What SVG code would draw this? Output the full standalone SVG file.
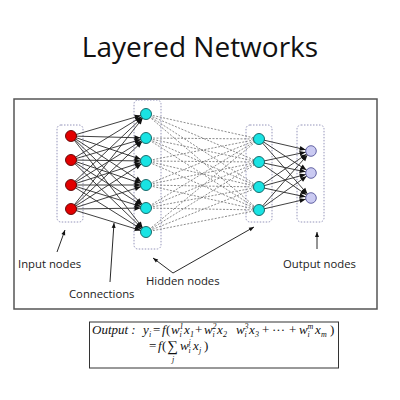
<svg xmlns="http://www.w3.org/2000/svg" width="400" height="400" viewBox="0 0 400 400">
<defs>
<marker id="nh" markerUnits="userSpaceOnUse" markerWidth="12" markerHeight="6" refX="11.5" refY="2.5" orient="auto" overflow="visible"><path d="M0,0 L6,2.5 L0,5 z" fill="#111"/></marker>
<marker id="ah" markerUnits="userSpaceOnUse" markerWidth="6" markerHeight="5" refX="5" refY="2" orient="auto" overflow="visible"><path d="M0,0 L5,2 L0,4 z" fill="#111"/></marker>
<style>
.title{font-family:"Open Sans","Liberation Sans",sans-serif;font-size:28px;fill:#111}
.lbl{font-family:"Open Sans","Liberation Sans",sans-serif;font-size:11.3px;fill:#222}
.f{font-family:"Liberation Serif",serif;font-style:italic;font-size:13px;fill:#111}
.fs{font-family:"Liberation Serif",serif;font-style:italic;font-size:8px;fill:#111}
.fn{font-family:"Liberation Serif",serif;font-size:13px;fill:#111}
.grp{fill:none;stroke:#7a7aa8;stroke-width:0.8;stroke-dasharray:1.5 1.5}
.inp{fill:#e20000;stroke:#5a0000;stroke-width:0.9}
.hid{fill:#19e3e3;stroke:#0e5c5c;stroke-width:0.9}
.out{fill:#cacaf2;stroke:#55559a;stroke-width:0.9}
.s{stroke:#2a2a2a;stroke-width:0.9;marker-end:url(#nh)}
.d{stroke:#666;stroke-width:0.75;stroke-dasharray:2 1.5}
.ann{stroke:#111;stroke-width:0.9;fill:none;marker-end:url(#ah)}
</style>
</defs>
<rect width="400" height="400" fill="#fff"/>
<text class="title" x="200" y="57" text-anchor="middle">Layered Networks</text>
<rect x="14" y="99" width="363" height="210" fill="none" stroke="#555" stroke-width="1.5"/>

<g id="groups">
<rect class="grp" x="57" y="125" width="26" height="97" rx="4"/>
<rect class="grp" x="134" y="100" width="27" height="149" rx="4"/>
<rect class="grp" x="246" y="125" width="26" height="97" rx="4"/>
<rect class="grp" x="297" y="125" width="27" height="97" rx="4"/>
</g>

<g id="connectors">
<g id="in-hid">
<line class="s" x1="71" y1="136" x2="146" y2="114"/><line class="s" x1="71" y1="136" x2="146" y2="138"/><line class="s" x1="71" y1="136" x2="146" y2="161"/><line class="s" x1="71" y1="136" x2="146" y2="185"/><line class="s" x1="71" y1="136" x2="146" y2="208"/><line class="s" x1="71" y1="136" x2="146" y2="232"/>
<line class="s" x1="71" y1="160" x2="146" y2="114"/><line class="s" x1="71" y1="160" x2="146" y2="138"/><line class="s" x1="71" y1="160" x2="146" y2="161"/><line class="s" x1="71" y1="160" x2="146" y2="185"/><line class="s" x1="71" y1="160" x2="146" y2="208"/><line class="s" x1="71" y1="160" x2="146" y2="232"/>
<line class="s" x1="71" y1="185" x2="146" y2="114"/><line class="s" x1="71" y1="185" x2="146" y2="138"/><line class="s" x1="71" y1="185" x2="146" y2="161"/><line class="s" x1="71" y1="185" x2="146" y2="185"/><line class="s" x1="71" y1="185" x2="146" y2="208"/><line class="s" x1="71" y1="185" x2="146" y2="232"/>
<line class="s" x1="71" y1="209" x2="146" y2="114"/><line class="s" x1="71" y1="209" x2="146" y2="138"/><line class="s" x1="71" y1="209" x2="146" y2="161"/><line class="s" x1="71" y1="209" x2="146" y2="185"/><line class="s" x1="71" y1="209" x2="146" y2="208"/><line class="s" x1="71" y1="209" x2="146" y2="232"/>
</g>
<g id="hid-hid">
<line class="d" x1="146" y1="114" x2="259" y2="139"/><line class="d" x1="146" y1="114" x2="259" y2="162"/><line class="d" x1="146" y1="114" x2="259" y2="187"/><line class="d" x1="146" y1="114" x2="259" y2="210"/>
<line class="d" x1="146" y1="138" x2="259" y2="139"/><line class="d" x1="146" y1="138" x2="259" y2="162"/><line class="d" x1="146" y1="138" x2="259" y2="187"/><line class="d" x1="146" y1="138" x2="259" y2="210"/>
<line class="d" x1="146" y1="161" x2="259" y2="139"/><line class="d" x1="146" y1="161" x2="259" y2="162"/><line class="d" x1="146" y1="161" x2="259" y2="187"/><line class="d" x1="146" y1="161" x2="259" y2="210"/>
<line class="d" x1="146" y1="185" x2="259" y2="139"/><line class="d" x1="146" y1="185" x2="259" y2="162"/><line class="d" x1="146" y1="185" x2="259" y2="187"/><line class="d" x1="146" y1="185" x2="259" y2="210"/>
<line class="d" x1="146" y1="208" x2="259" y2="139"/><line class="d" x1="146" y1="208" x2="259" y2="162"/><line class="d" x1="146" y1="208" x2="259" y2="187"/><line class="d" x1="146" y1="208" x2="259" y2="210"/>
<line class="d" x1="146" y1="232" x2="259" y2="139"/><line class="d" x1="146" y1="232" x2="259" y2="162"/><line class="d" x1="146" y1="232" x2="259" y2="187"/><line class="d" x1="146" y1="232" x2="259" y2="210"/>
</g>
<g id="hid-out">
<line class="s" x1="259" y1="139" x2="311" y2="151"/><line class="s" x1="259" y1="139" x2="311" y2="173"/><line class="s" x1="259" y1="139" x2="311" y2="198"/>
<line class="s" x1="259" y1="162" x2="311" y2="151"/><line class="s" x1="259" y1="162" x2="311" y2="173"/><line class="s" x1="259" y1="162" x2="311" y2="198"/>
<line class="s" x1="259" y1="187" x2="311" y2="151"/><line class="s" x1="259" y1="187" x2="311" y2="173"/><line class="s" x1="259" y1="187" x2="311" y2="198"/>
<line class="s" x1="259" y1="210" x2="311" y2="151"/><line class="s" x1="259" y1="210" x2="311" y2="173"/><line class="s" x1="259" y1="210" x2="311" y2="198"/>
</g>
<g id="annotations">
<line class="ann" x1="57" y1="252" x2="65" y2="230"/>
<line class="ann" x1="110" y1="282" x2="114" y2="223"/>
<line class="ann" x1="173" y1="273" x2="153" y2="258"/>
<line class="ann" x1="173" y1="273" x2="254" y2="227"/>
<line class="ann" x1="317" y1="249" x2="317" y2="232"/>
</g>
</g>

<g id="input-nodes">
<circle class="inp" cx="71" cy="136" r="5.5"/><circle class="inp" cx="71" cy="160" r="5.5"/><circle class="inp" cx="71" cy="185" r="5.5"/><circle class="inp" cx="71" cy="209" r="5.5"/>
</g>
<g id="hidden-nodes-1">
<circle class="hid" cx="146" cy="114" r="5.5"/><circle class="hid" cx="146" cy="138" r="5.5"/><circle class="hid" cx="146" cy="161" r="5.5"/><circle class="hid" cx="146" cy="185" r="5.5"/><circle class="hid" cx="146" cy="208" r="5.5"/><circle class="hid" cx="146" cy="232" r="5.5"/>
</g>
<g id="hidden-nodes-2">
<circle class="hid" cx="259" cy="139" r="5.5"/><circle class="hid" cx="259" cy="162" r="5.5"/><circle class="hid" cx="259" cy="187" r="5.5"/><circle class="hid" cx="259" cy="210" r="5.5"/>
</g>
<g id="output-nodes">
<circle class="out" cx="311" cy="151" r="5.3"/><circle class="out" cx="311" cy="173" r="5.3"/><circle class="out" cx="311" cy="198" r="5.3"/>
</g>

<g id="labels">
<text class="lbl" x="18" y="268">Input nodes</text>
<text class="lbl" x="69" y="298">Connections</text>
<text class="lbl" x="146" y="285">Hidden nodes</text>
<text class="lbl" x="283" y="268">Output nodes</text>
</g>

<g id="formula">
<rect x="89.5" y="322" width="249" height="46" fill="none" stroke="#333" stroke-width="1"/>
<text class="f" x="92" y="334">Output :</text>
<text class="f" x="143" y="334">y</text><text class="fs" x="149" y="337">i</text>
<text class="fn" x="153" y="334">=</text>
<text class="f" x="162" y="334">f</text><text class="fn" x="166" y="334">(</text>
<text class="f" x="171" y="334">w</text><text class="fs" x="179.5" y="337">i</text><text class="fs" x="179.5" y="329">1</text><text class="f" x="184" y="334">x</text><text class="fs" x="190" y="337">1</text>
<text class="fn" x="195" y="334">+</text>
<text class="f" x="204" y="334">w</text><text class="fs" x="212.5" y="337">i</text><text class="fs" x="212.5" y="329">2</text><text class="f" x="217" y="334">x</text><text class="fs" x="223" y="337">2</text>
<text class="f" x="236" y="334">w</text><text class="fs" x="244.5" y="337">i</text><text class="fs" x="244.5" y="329">3</text><text class="f" x="249" y="334">x</text><text class="fs" x="255" y="337">3</text>
<text class="fn" x="262" y="334">+</text>
<text class="fn" x="272" y="334">···</text>
<text class="fn" x="289" y="334">+</text>
<text class="f" x="299" y="334">w</text><text class="fs" x="307.5" y="337">i</text><text class="fs" x="307.5" y="329">m</text><text class="f" x="315" y="334">x</text><text class="fs" x="321" y="337">m</text>
<text class="fn" x="330" y="334">)</text>
<text class="fn" x="149" y="350">=</text>
<text class="f" x="158" y="350">f</text><text class="fn" x="162" y="350">(</text>
<text class="fn" x="167" y="351" style="font-size:15px">∑</text>
<text class="fs" x="172" y="362">j</text>
<text class="f" x="180" y="350">w</text><text class="fs" x="188.5" y="353">i</text><text class="fs" x="188.5" y="345">j</text><text class="f" x="193" y="350">x</text><text class="fs" x="199" y="353">j</text>
<text class="fn" x="204" y="350">)</text>
</g>
</svg>
